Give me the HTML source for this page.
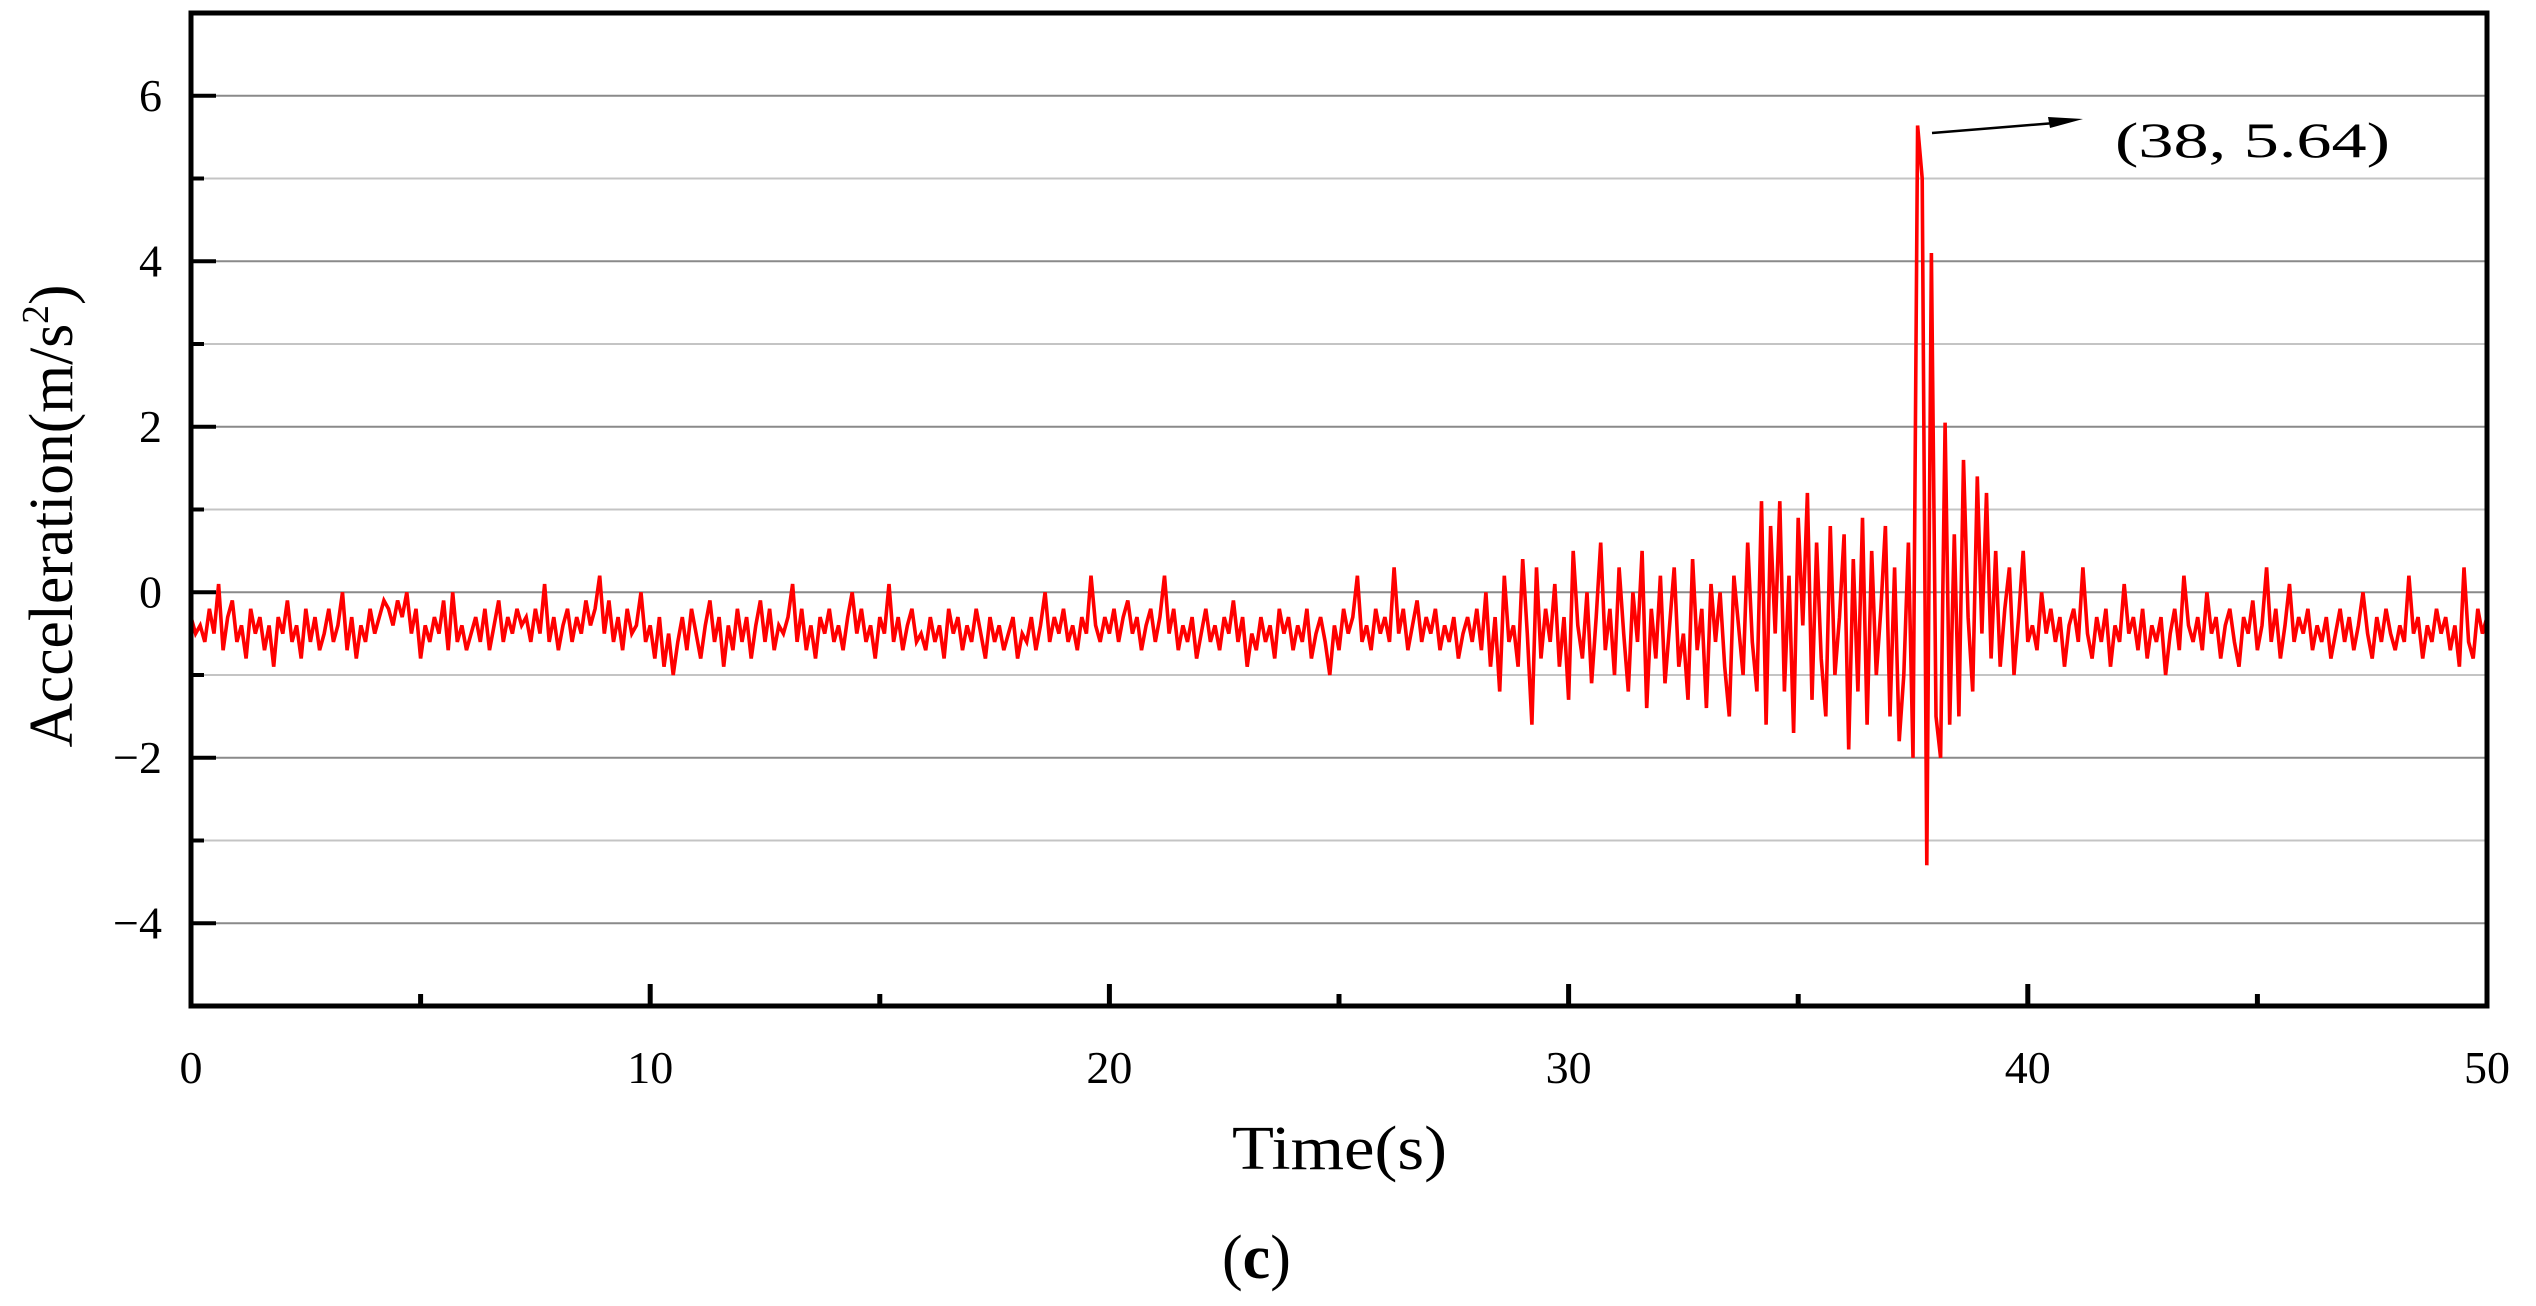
<!DOCTYPE html>
<html><head><meta charset="utf-8"><style>
html,body{margin:0;padding:0;background:#fff;}
svg{display:block;font-family:"Liberation Serif",serif;}
</style></head><body>
<svg id="chart" width="2536" height="1306" viewBox="0 0 2536 1306" xmlns="http://www.w3.org/2000/svg">
<g id="grid"></g>
<g id="series"></g>
<g id="axes"></g>
<text x="0" y="0" transform="translate(72,516) rotate(-90)" text-anchor="middle" font-size="62" textLength="463" lengthAdjust="spacingAndGlyphs">Acceleration(m/s<tspan font-size="38" dy="-24">2</tspan><tspan dy="24">)</tspan></text>
<text x="1232" y="1169" font-size="62" textLength="215" lengthAdjust="spacingAndGlyphs">Time(s)</text>
<text x="1222" y="1278" font-size="62">(<tspan font-weight="bold">c</tspan>)</text>
<g>
<line x1="1932" y1="133" x2="2055" y2="123" stroke="#000" stroke-width="2.5"/>
<polygon points="2083,119 2048,117 2050,128" fill="#000"/>
<text x="2115" y="157" font-size="50" textLength="275" lengthAdjust="spacingAndGlyphs">(38, 5.64)</text>
</g>
</svg>
<script>
const yTicks = [-4, -2, 0, 2, 4, 6];
const yMinor = [-5, -3, -1, 1, 3, 5, 7];
const xTicks = [0, 10, 20, 30, 40, 50];
const xMinor = [5, 15, 25, 35, 45];
const dt = 0.1;
const accel = [
-0.3,-0.5,-0.4,-0.6,-0.2,-0.5,0.1,-0.7,-0.3,-0.1,
-0.6,-0.4,-0.8,-0.2,-0.5,-0.3,-0.7,-0.4,-0.9,-0.3,
-0.5,-0.1,-0.6,-0.4,-0.8,-0.2,-0.6,-0.3,-0.7,-0.5,
-0.2,-0.6,-0.4,0.0,-0.7,-0.3,-0.8,-0.4,-0.6,-0.2,
-0.5,-0.3,-0.1,-0.2,-0.4,-0.1,-0.3,0.0,-0.5,-0.2,
-0.8,-0.4,-0.6,-0.3,-0.5,-0.1,-0.7,0.0,-0.6,-0.4,
-0.7,-0.5,-0.3,-0.6,-0.2,-0.7,-0.4,-0.1,-0.6,-0.3,
-0.5,-0.2,-0.4,-0.3,-0.6,-0.2,-0.5,0.1,-0.6,-0.3,
-0.7,-0.4,-0.2,-0.6,-0.3,-0.5,-0.1,-0.4,-0.2,0.2,
-0.5,-0.1,-0.6,-0.3,-0.7,-0.2,-0.5,-0.4,0.0,-0.6,
-0.4,-0.8,-0.3,-0.9,-0.5,-1.0,-0.6,-0.3,-0.7,-0.2,
-0.5,-0.8,-0.4,-0.1,-0.6,-0.3,-0.9,-0.4,-0.7,-0.2,
-0.6,-0.3,-0.8,-0.4,-0.1,-0.6,-0.2,-0.7,-0.4,-0.5,
-0.3,0.1,-0.6,-0.2,-0.7,-0.4,-0.8,-0.3,-0.5,-0.2,
-0.6,-0.4,-0.7,-0.3,0.0,-0.5,-0.2,-0.6,-0.4,-0.8,
-0.3,-0.5,0.1,-0.6,-0.3,-0.7,-0.4,-0.2,-0.6,-0.5,
-0.7,-0.3,-0.6,-0.4,-0.8,-0.2,-0.5,-0.3,-0.7,-0.4,
-0.6,-0.2,-0.5,-0.8,-0.3,-0.6,-0.4,-0.7,-0.5,-0.3,
-0.8,-0.5,-0.6,-0.3,-0.7,-0.4,0.0,-0.6,-0.3,-0.5,
-0.2,-0.6,-0.4,-0.7,-0.3,-0.5,0.2,-0.4,-0.6,-0.3,
-0.5,-0.2,-0.6,-0.3,-0.1,-0.5,-0.3,-0.7,-0.4,-0.2,
-0.6,-0.3,0.2,-0.5,-0.2,-0.7,-0.4,-0.6,-0.3,-0.8,
-0.5,-0.2,-0.6,-0.4,-0.7,-0.3,-0.5,-0.1,-0.6,-0.3,
-0.9,-0.5,-0.7,-0.3,-0.6,-0.4,-0.8,-0.2,-0.5,-0.3,
-0.7,-0.4,-0.6,-0.2,-0.8,-0.5,-0.3,-0.6,-1.0,-0.4,
-0.7,-0.2,-0.5,-0.3,0.2,-0.6,-0.4,-0.7,-0.2,-0.5,
-0.3,-0.6,0.3,-0.5,-0.2,-0.7,-0.4,-0.1,-0.6,-0.3,
-0.5,-0.2,-0.7,-0.4,-0.6,-0.3,-0.8,-0.5,-0.3,-0.6,
-0.2,-0.7,0.0,-0.9,-0.3,-1.2,0.2,-0.6,-0.4,-0.9,
0.4,-0.5,-1.6,0.3,-0.8,-0.2,-0.6,0.1,-0.9,-0.3,
-1.3,0.5,-0.4,-0.8,0.0,-1.1,-0.3,0.6,-0.7,-0.2,
-1.0,0.3,-0.5,-1.2,0.0,-0.6,0.5,-1.4,-0.2,-0.8,
0.2,-1.1,-0.4,0.3,-0.9,-0.5,-1.3,0.4,-0.7,-0.2,
-1.4,0.1,-0.6,0.0,-0.9,-1.5,0.2,-0.4,-1.0,0.6,
-0.6,-1.2,1.1,-1.6,0.8,-0.5,1.1,-1.2,0.2,-1.7,
0.9,-0.4,1.2,-1.3,0.6,-0.8,-1.5,0.8,-1.0,-0.3,
0.7,-1.9,0.4,-1.2,0.9,-1.6,0.5,-1.0,-0.2,0.8,
-1.5,0.3,-1.8,-1.0,0.6,
-2.0,5.64,5.0,-3.3,4.1,-1.5,-2.0,2.05,-1.6,0.7,-1.5,
1.6,-0.3,-1.2,1.4,-0.5,1.2,-0.8,0.5,-0.9,-0.2,0.3,-1.0,-0.3,0.5,
-0.6,-0.4,-0.7,0.0,-0.5,-0.2,-0.6,-0.3,-0.9,-0.4,
-0.2,-0.6,0.3,-0.5,-0.8,-0.3,-0.6,-0.2,-0.9,-0.4,
-0.6,0.1,-0.5,-0.3,-0.7,-0.2,-0.8,-0.4,-0.6,-0.3,
-1.0,-0.5,-0.2,-0.7,0.2,-0.4,-0.6,-0.3,-0.7,0.0,
-0.5,-0.3,-0.8,-0.4,-0.2,-0.6,-0.9,-0.3,-0.5,-0.1,
-0.7,-0.4,0.3,-0.6,-0.2,-0.8,-0.4,0.1,-0.6,-0.3,
-0.5,-0.2,-0.7,-0.4,-0.6,-0.3,-0.8,-0.5,-0.2,-0.6,
-0.3,-0.7,-0.4,0.0,-0.5,-0.8,-0.3,-0.6,-0.2,-0.5,
-0.7,-0.4,-0.6,0.2,-0.5,-0.3,-0.8,-0.4,-0.6,-0.2,
-0.5,-0.3,-0.7,-0.4,-0.9,0.3,-0.6,-0.8,-0.2,-0.5,
-0.3
];

const NS = "http://www.w3.org/2000/svg";
const L = 191, R = 2487, T = 13, B = 1006;
const xMin = 0, xMax = 50, yMin = -5, yMax = 7;
function sx(v){ return L + (v - xMin) / (xMax - xMin) * (R - L); }
function sy(v){ return B - (v - yMin) / (yMax - yMin) * (B - T); }
function mk(tag, attrs, parent){
  const e = document.createElementNS(NS, tag);
  for (const k in attrs) e.setAttribute(k, attrs[k]);
  parent.appendChild(e);
  return e;
}
const grid = document.getElementById('grid');
const axes = document.getElementById('axes');
const series = document.getElementById('series');

yMinor.forEach(v => {
  if (v <= yMin || v >= yMax) return;
  const g = mk('line', {x1:L, x2:R, y1:sy(v), y2:sy(v), stroke:'#c4c4c4', 'stroke-width':2}, grid);
  
  
});
yTicks.forEach(v => {
  const g = mk('line', {x1:L, x2:R, y1:sy(v), y2:sy(v), stroke:'#8a8a8a', 'stroke-width':2}, grid);
  
  
});

let d = '';
accel.forEach((v, i) => {
  d += (i ? 'L' : 'M') + sx(i * dt).toFixed(1) + ',' + sy(v).toFixed(1);
});
const path = mk('path', {d:d, fill:'none', stroke:'#ff0000', 'stroke-width':3.6, 'stroke-linejoin':'miter'}, series);



const frame = mk('rect', {x:L, y:T, width:R-L, height:B-T, fill:'none', stroke:'#000', 'stroke-width':5}, axes);



yTicks.forEach(v => {
  const t = mk('line', {x1:L, x2:L+25, y1:sy(v), y2:sy(v), stroke:'#000', 'stroke-width':4}, axes);
  
  
  const lb = mk('text', {x:162, y:sy(v)+15, 'text-anchor':'end', 'font-size':46}, axes);
  lb.textContent = v < 0 ? '\u2212' + Math.abs(v) : String(v);
  
  
});
yMinor.forEach(v => {
  if (v <= yMin || v >= yMax) return;
  const t = mk('line', {x1:L, x2:L+13, y1:sy(v), y2:sy(v), stroke:'#000', 'stroke-width':4}, axes);
  
  
});
xTicks.forEach(v => {
  const t = mk('line', {x1:sx(v), x2:sx(v), y1:B, y2:B-22, stroke:'#000', 'stroke-width':5}, axes);
  
  
  const lb = mk('text', {x:sx(v), y:1083, 'text-anchor':'middle', 'font-size':46}, axes);
  lb.textContent = String(v);
  
  
});
xMinor.forEach(v => {
  const t = mk('line', {x1:sx(v), x2:sx(v), y1:B, y2:B-12, stroke:'#000', 'stroke-width':5}, axes);
  
  
});
</script>
</body></html>
